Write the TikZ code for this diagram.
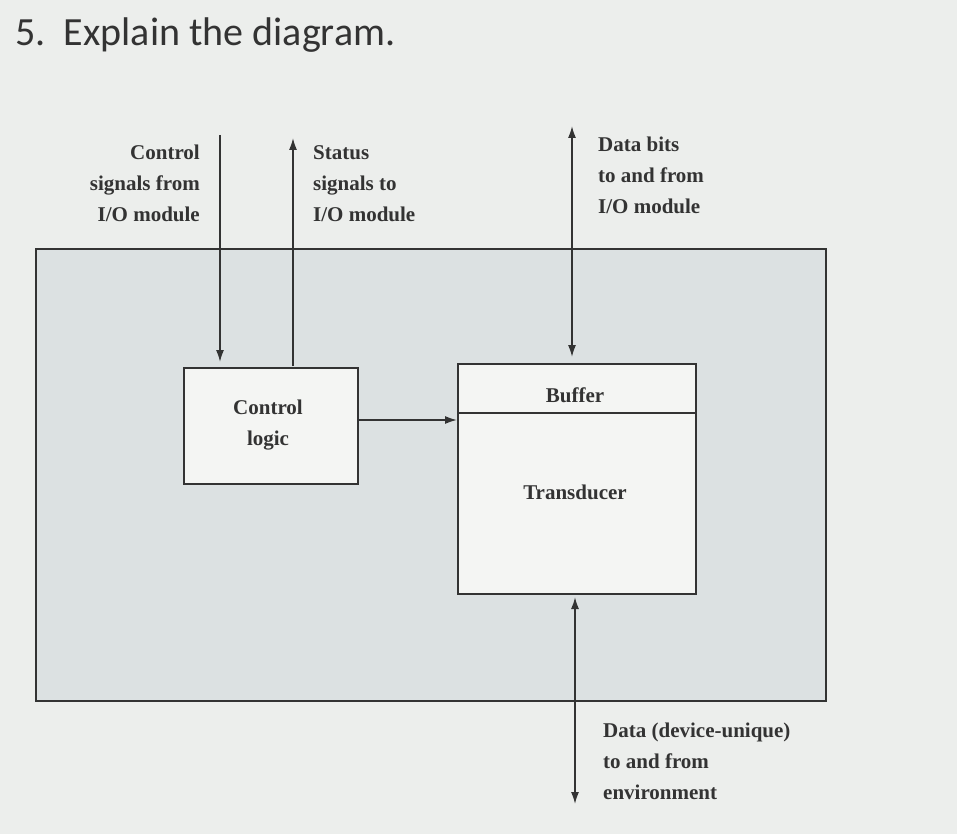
\documentclass[tikz,border=0pt]{standalone}
\usepackage{fontspec}
\setmainfont{Liberation Serif}
\newfontfamily\titlefont{Carlito}
\usetikzlibrary{arrows.meta}
\definecolor{bg}{HTML}{ECEEEC}
\definecolor{panel}{HTML}{DCE1E2}
\definecolor{boxw}{HTML}{F4F5F3}
\definecolor{ink}{HTML}{333333}
\begin{document}
\begin{tikzpicture}[x=1pt,y=-1pt,
  line/.style={draw=ink,line width=1.6pt},
  arr/.style={line,-{Latex[length=12pt,width=8pt]}},
  darr/.style={line,{Latex[length=12pt,width=8pt]}-{Latex[length=12pt,width=8pt]}},
  lbl/.style={font=\bfseries\fontsize{21}{31}\selectfont,text=ink,inner sep=0pt},
  box/.style={line,fill=boxw}]
\useasboundingbox[fill=bg] (0,0) rectangle (957,834);
\node[anchor=west,font=\titlefont\fontsize{40}{44}\selectfont,text=ink] (title) at (12,35) {5.\ \ Explain the diagram.};
\node[box,fill=panel,minimum width=790pt,minimum height=452pt,anchor=north west,inner sep=0pt] (outer) at (35,248) {};
\node[box,minimum width=174pt,minimum height=116pt,anchor=north west,inner sep=0pt] (cl) at (183,367) {};
\node[lbl,align=center] (cltext) at (268,425) {Control\\logic};
\node[box,minimum width=238pt,minimum height=230pt,anchor=north west,inner sep=0pt] (bt) at (457,363) {};
\draw[line] (457,413) -- (695,413);
\node[lbl] (buf) at (575,395) {Buffer};
\node[lbl] (trans) at (575,492) {Transducer};
\coordinate (c1) at (220,135); \coordinate (c2) at (220,362);
\coordinate (s1) at (293,366); \coordinate (s2) at (293,138);
\coordinate (d1) at (572,126); \coordinate (d2) at (572,357);
\coordinate (e1) at (575,597); \coordinate (e2) at (575,804);
\draw[arr] (c1) -- (c2);
\draw[arr] (s1) -- (s2);
\draw[darr] (d1) -- (d2);
\draw[darr] (e1) -- (e2);
\draw[arr] (cl.east |- 0,420) -- (bt.west |- 0,420);
\node[lbl,align=right,anchor=north east] (ctl) at (200,145) {Control\\signals from\\I/O module};
\node[lbl,align=left,anchor=north west] (st) at (313,145) {Status\\signals to\\I/O module};
\node[lbl,align=left,anchor=north west] (db) at (598,137) {Data bits\\to and from\\I/O module};
\node[lbl,align=left,anchor=north west] (env) at (603,723) {Data (device-unique)\\to and from\\environment};
\end{tikzpicture}
\end{document}
